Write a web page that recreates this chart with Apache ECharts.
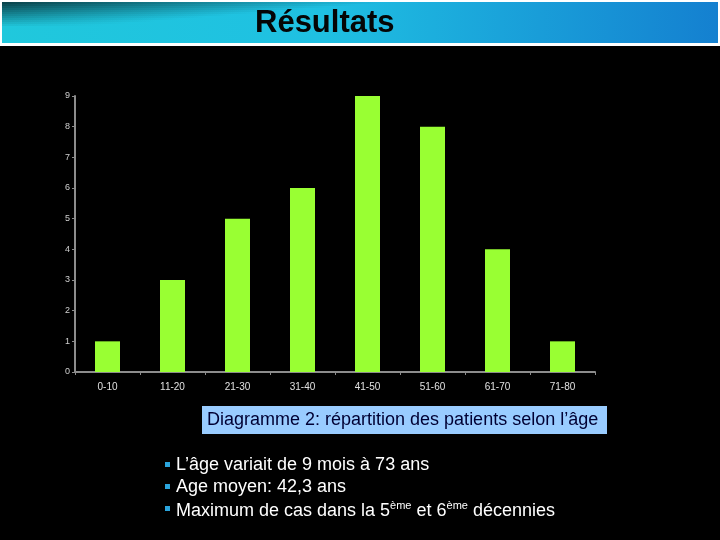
<!DOCTYPE html>
<html><head><meta charset="utf-8">
<script src="https://cdn.jsdelivr.net/npm/echarts@6/dist/echarts.min.js"></script>
<style>html,body{margin:0;padding:0;background:#000;}#c{width:720px;height:540px;}</style>
</head><body><div id="c"></div>
<script>
const categories = ['0-10','11-20','21-30','31-40','41-50','51-60','61-70','71-80'];
const patients = [1,3,5,6,9,8,4,1];
const yTicks = [0,1,2,3,4,5,6,7,8,9];
const titleText = 'Résultats';
const captionText = 'Diagramme 2: répartition des patients selon l\u2019âge';
const bullets = [
  '{t|L\u2019âge variait de 9 mois à 73 ans}',
  '{t|Age moyen: 42,3 ans}',
  '{t|Maximum de cas dans la 5}{s|ème}{t| et 6}{s|ème}{t| décennies}'
];
const chart = echarts.init(document.getElementById('c'));
const font = 'Liberation Sans, Arial, sans-serif';
const shadow = [];
for (let i = 0; i < 12; i++) {
  const a = 0.8 * (1 - i / 12);
  shadow.push({type: 'rect', left: 2, top: 2 + i * 2, shape: {width: 380 - i * 25, height: 2},
    style: {fill: new echarts.graphic.LinearGradient(0, 0, 1, 0, [
      {offset: 0, color: 'rgba(5,35,40,' + a + ')'}, {offset: 0.3, color: 'rgba(5,35,40,' + (a * 0.7) + ')'}, {offset: 1, color: 'rgba(5,35,40,0)'}])}, z: 12});
}
chart.setOption({
  backgroundColor: '#000',
  animation: false,
  grid: {left: 75, right: 125, top: 96, bottom: 168},
  xAxis: {
    type: 'category', data: categories,
    axisLine: {lineStyle: {color: '#8c8c8c', width: 2}},
    axisTick: {show: true, length: 3, lineStyle: {color: '#8c8c8c', width: 1}},
    axisLabel: {color: '#e0e0e0', fontSize: 10, fontFamily: font, margin: 10}
  },
  yAxis: {
    type: 'value', min: yTicks[0], max: yTicks[yTicks.length-1], interval: 1,
    splitLine: {show: false},
    axisLine: {show: true, lineStyle: {color: '#8c8c8c', width: 2}},
    axisTick: {show: true, length: 3, lineStyle: {color: '#8c8c8c'}},
    axisLabel: {color: '#d0d0d0', fontSize: 9, fontFamily: font, margin: 5}
  },
  series: [{
    type: 'bar', data: patients, barWidth: 25,
    itemStyle: {color: '#99ff33'}
  }],
  graphic: [
    {type: 'rect', left: 0, top: 0, shape: {width: 720, height: 46}, style: {fill: '#ffffff'}, z: 10},
    {type: 'rect', left: 2, top: 2, shape: {width: 716, height: 41},
      style: {fill: new echarts.graphic.LinearGradient(0, 0, 1, 0.3, [
        {offset: 0, color: '#20c8dc'}, {offset: 0.45, color: '#1fc0e2'}, {offset: 1, color: '#1480d0'}])}, z: 11}
  ].concat(shadow).concat([
    {type: 'text', left: 255, top: 8, style: {text: titleText, fill: '#050505', font: 'bold 31px ' + font}, z: 13},
    {type: 'rect', left: 202, top: 406, shape: {width: 405, height: 28}, style: {fill: '#99ccff'}, z: 10},
    {type: 'text', left: 207, top: 411, style: {text: captionText, fill: '#000033', font: '18px ' + font}, z: 11},
    {type: 'rect', left: 165, top: 462, shape: {width: 5, height: 5}, style: {fill: '#2aa4dc'}, z: 10},
    {type: 'rect', left: 165, top: 484, shape: {width: 5, height: 5}, style: {fill: '#2aa4dc'}, z: 10},
    {type: 'rect', left: 165, top: 506, shape: {width: 5, height: 5}, style: {fill: '#2aa4dc'}, z: 10},
    {type: 'text', left: 176, top: 456, style: {text: bullets[0], rich: {t: {fill: '#fff', font: '18px ' + font}}}, z: 11},
    {type: 'text', left: 176, top: 478, style: {text: bullets[1], rich: {t: {fill: '#fff', font: '18px ' + font}}}, z: 11},
    {type: 'text', left: 176, top: 500, style: {text: bullets[2], rich: {
      t: {fill: '#fff', font: '18px ' + font, verticalAlign: 'bottom', lineHeight: 20},
      s: {fill: '#fff', font: '11px ' + font, verticalAlign: 'top', padding: [0,0,9,0], lineHeight: 20}}}, z: 11}
  ])
});
</script></body></html>
